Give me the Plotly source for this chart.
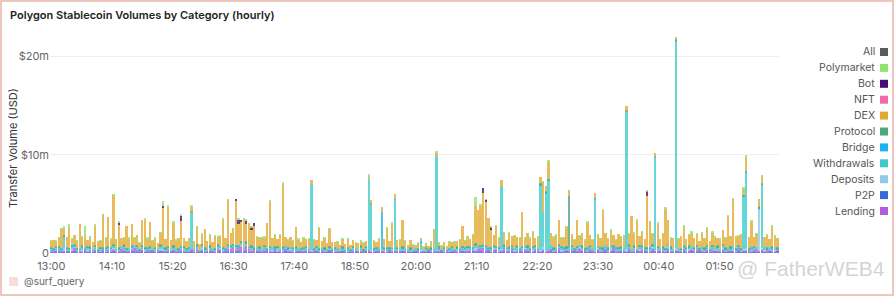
import plotly.graph_objects as go
import pandas as pd

# ---------------- data (values in units of $100k per 3-minute bin) ----------------
start_time = "2025-01-06 13:00"
bin_minutes = 3
n_bins = 280
unit = 1e5

tick_labels = ["13:00", "14:10", "15:20", "16:30", "17:40", "18:50",
               "20:00", "21:10", "22:20", "23:30", "00:40", "01:50"]
tick_step_minutes = 70

legend_categories = ["All", "Polymarket", "Bot", "NFT", "DEX", "Protocol",
                     "Bridge", "Withdrawals", "Deposits", "P2P", "Lending"]
colors = {
    "All": "#5a5a5a", "Polymarket": "#8ee46f", "Bot": "#4a0b78", "NFT": "#f06aa8",
    "DEX": "#e2aa34", "Protocol": "#4ea77a", "Bridge": "#1fb3ee",
    "Withdrawals": "#3fcaca", "Deposits": "#8fcbe6", "P2P": "#3b66d8", "Lending": "#b35bdb",
}

dex = [6,8,5,9,19,7,10,20,6,9,7,25,8,12,6,9,7,20,8,6,
       34,9,30,7,50,10,23,8,6,23,9,22,7,10,6,26,28,8,25,7,
       9,6,11,40,8,40,9,23,7,10,26,8,6,9,5,8,17,6,9,18,
       7,10,6,12,8,9,28,10,44,12,15,45,22,20,28,18,24,16,22,10,
       8,12,7,26,45,9,11,7,14,62,9,7,10,6,19,8,6,9,7,10,
       4,8,6,20,7,9,6,17,7,5,6,4,7,5,8,4,6,5,7,4,
       6,5,3,4,7,5,9,5,8,19,6,25,5,7,9,27,6,5,7,4,
       3,5,3,3,4,2,5,19,3,4,3,5,3,6,4,7,5,8,20,6,
       9,7,12,38,37,40,52,44,30,18,10,20,9,6,11,8,13,9,12,8,
       10,35,8,12,9,14,7,11,6,30,5,18,12,9,13,25,8,10,19,6,
       11,8,27,9,12,7,25,10,8,5,11,9,37,12,8,14,10,7,13,9,
       12,5,10,34,11,29,9,13,8,52,27,10,4,23,9,12,40,25,8,11,
       3,9,12,19,8,10,14,9,11,7,13,9,17,8,12,10,7,11,14,9,
       32,10,48,12,9,14,6,15,11,26,9,13,8,7,10,12,8,20,11,9]

withdrawals = [2,1,2,1,2,12,1,2,3,1,2,1,2,1,3,2,1,2,1,2,
               1,2,1,3,2,1,2,1,2,2,1,3,1,2,1,2,1,2,1,2,
               2,1,3,1,2,1,2,1,2,1,2,1,2,2,37,1,2,1,3,2,
               1,2,2,1,3,1,2,1,2,1,2,2,1,2,1,3,1,2,1,2,
               2,1,2,1,2,2,1,3,1,2,1,2,1,2,2,1,2,1,2,1,
               67,1,2,1,2,1,2,1,1,2,1,2,1,1,2,1,2,1,1,2,
               1,2,72,46,1,2,1,2,1,2,1,2,52,1,2,1,2,1,1,2,
               1,1,8,1,2,1,1,2,97,1,1,2,1,1,2,1,2,1,2,1,
               2,1,2,3,1,2,1,2,1,2,1,2,2,64,1,2,1,2,1,2,
               1,2,1,2,1,3,1,2,66,36,58,71,2,1,2,1,2,1,2,1,
               2,1,2,1,2,1,2,1,2,51,1,2,1,2,1,3,1,2,1,2,
               1,140,2,1,2,1,2,1,2,1,2,1,95,2,1,2,1,2,1,2,
               210,1,2,1,2,1,3,1,2,1,2,1,2,1,2,1,2,1,3,1,
               2,1,2,1,2,1,54,77,1,2,1,2,1,65,2,1,2,1,2,1]

lending = [1,2,1,3,1,2,1,1,2,4,1,2,1,3,1,2,1,2,1,1,
           2,1,3,1,2,1,1,4,2,1,2,1,5,3,1,2,1,2,3,1,
           1,2,1,2,1,3,1,2,1,2,1,2,1,1,2,1,3,1,2,1,
           2,1,2,1,3,2,1,2,3,4,5,3,4,6,3,5,4,2,3,1,
           2,1,3,1,2,1,2,1,2,1,3,1,2,1,2,1,1,2,1,2,
           1,2,1,1,2,1,1,2,1,1,2,1,1,2,1,1,2,1,1,2,
           1,1,2,1,1,2,1,1,2,1,2,1,1,2,1,1,2,1,1,1,
           1,2,1,1,1,2,1,1,1,2,1,1,2,1,1,2,1,3,1,2,
           2,3,1,2,4,3,5,3,2,1,3,2,1,2,4,1,2,3,1,2,
           1,2,3,1,2,1,3,2,1,2,1,2,3,1,2,4,1,2,1,2,
           3,1,2,4,1,2,1,3,2,1,2,1,2,3,1,2,4,1,2,1,
           2,1,3,1,2,1,2,4,1,2,1,3,1,2,1,2,1,3,2,1,
           1,2,1,3,1,2,1,2,3,1,2,1,2,1,3,1,2,1,2,1,
           2,1,2,1,3,1,2,1,2,1,2,3,1,2,1,2,1,2,1,2]

p2p = [1,1,2,1,1,1,2,1,1,2,1,1,1,2,1,1,1,2,1,1,
       2,1,1,1,2,1,1,1,2,1,1,2,1,1,1,2,1,1,1,2,
       1,1,2,1,1,1,1,2,1,1,2,1,1,1,2,1,1,1,2,1,
       1,2,1,1,1,2,1,1,2,1,1,1,2,1,1,2,1,1,1,2,
       1,1,1,2,1,1,2,1,1,1,2,1,1,1,1,2,1,1,2,1,
       1,1,2,1,1,1,1,2,1,1,1,1,2,1,1,1,1,2,1,1,
       1,2,1,1,1,1,2,1,1,1,2,1,1,1,1,2,1,1,1,1,
       2,1,1,1,1,2,1,1,1,1,2,1,1,1,2,1,1,1,2,1,
       1,1,2,1,1,2,1,1,2,1,1,2,1,1,2,1,1,2,1,1,
       2,1,1,2,1,1,2,1,1,2,1,1,2,1,1,2,1,1,2,1,
       1,2,1,1,2,1,1,2,1,1,2,1,1,2,1,1,2,1,1,2,
       1,1,2,1,1,2,1,1,2,1,1,2,1,1,2,1,1,2,1,1,
       2,1,1,2,1,1,2,1,1,2,1,1,2,1,1,2,1,1,2,1,
       1,2,1,1,2,1,1,2,1,1,2,1,1,2,1,1,2,1,1,2]

deposits = [1,0,1,1,0,2,1,0,1,1,0,1,2,0,1,0,1,1,0,1,
            0,1,1,0,2,1,0,1,1,0,1,0,1,1,0,1,2,0,1,0,
            1,0,1,2,0,1,0,1,1,0,1,2,0,1,0,1,1,0,1,0,
            1,1,0,1,0,2,1,0,1,1,0,1,0,2,1,0,1,1,0,1,
            0,1,1,0,1,2,0,1,0,1,1,0,2,1,0,1,0,1,1,0,
            1,0,1,1,0,1,0,1,0,1,1,0,1,0,1,0,1,1,0,1,
            0,1,0,1,1,0,1,0,1,1,0,1,0,1,0,1,1,0,1,0,
            1,0,1,0,1,0,1,1,0,1,0,1,0,1,1,0,1,0,1,1,
            1,1,0,2,1,0,1,1,0,1,2,0,1,1,0,1,1,0,2,1,
            0,1,2,1,0,1,1,0,1,2,1,0,1,1,0,1,2,1,0,1,
            1,0,1,2,1,0,1,1,0,1,2,1,0,1,1,2,0,1,1,0,
            1,2,0,1,1,0,2,1,0,1,1,2,0,1,1,0,1,2,1,0,
            2,1,0,1,1,2,0,1,1,0,2,1,1,0,1,2,1,0,1,1,
            0,1,2,1,0,1,1,2,0,1,1,0,42,1,2,0,1,1,2,0]

bridge = [0,1,0,0,1,0,1,0,0,1,0,0,1,0,0,1,0,0,1,0,
          1,0,0,1,0,0,1,0,1,0,0,1,0,0,1,0,0,1,0,0,
          0,0,1,0,1,0,0,1,0,0,1,0,0,1,0,0,1,0,0,1,
          0,1,0,0,1,0,0,1,0,1,0,0,1,0,0,1,0,1,0,0,
          1,0,0,1,0,0,1,0,0,1,0,1,0,0,1,0,0,1,0,0,
          0,0,1,0,0,1,0,0,1,0,0,0,1,0,0,1,0,0,0,1,
          0,1,0,0,1,0,0,38,0,1,0,0,1,0,0,1,0,0,1,0,
          0,0,1,0,0,0,1,0,0,1,0,0,0,1,0,0,1,0,0,1,
          0,1,0,1,0,0,1,0,1,0,0,1,0,0,1,0,1,0,0,1,
          1,0,0,1,0,1,0,0,1,0,1,0,0,1,0,0,1,0,1,0,
          0,1,0,0,1,0,1,0,0,1,0,0,1,0,1,0,0,1,0,1,
          0,0,1,0,1,0,0,1,0,0,1,0,1,0,0,1,0,0,1,0,
          1,0,0,1,0,1,0,0,1,0,0,1,0,1,0,0,1,0,0,1,
          0,1,0,0,1,0,0,1,0,1,0,0,1,0,0,1,0,1,0,0]

protocol = [1,0,1,1,0,1,0,1,1,0,1,0,1,0,1,1,0,1,0,1,
            0,1,1,0,1,0,1,0,1,1,0,1,0,1,0,1,1,0,1,0,
            1,0,1,0,1,1,0,1,0,1,0,1,1,0,1,0,1,0,1,1,
            0,1,0,1,1,0,1,0,1,0,1,1,0,1,0,1,0,1,1,0,
            1,0,1,0,1,0,1,1,0,1,0,1,0,1,1,0,1,0,1,0,
            0,1,0,1,0,1,0,1,0,1,0,0,1,0,1,0,1,0,0,1,
            1,0,0,1,0,1,0,0,1,0,1,0,0,1,0,1,0,0,1,0,
            0,1,0,0,1,0,1,0,0,1,0,1,0,0,1,0,1,0,1,0,
            1,0,1,1,0,1,0,1,0,1,1,0,1,0,1,0,1,1,0,1,
            0,1,0,1,1,0,1,0,1,0,1,1,0,1,0,1,0,1,1,53,
            1,0,1,0,1,1,0,1,0,1,0,1,1,0,1,0,1,0,1,1,
            0,1,1,0,1,0,1,0,1,1,0,1,0,1,0,1,1,0,1,0,
            1,0,1,0,1,1,0,1,0,1,0,1,1,0,1,0,1,0,1,1,
            0,1,0,1,0,1,1,0,1,0,1,0,1,1,0,1,0,1,0,1]

polymarket = [1,0,1,0,1,2,0,5,1,0,1,0,1,9,0,1,0,1,0,1,
              0,1,0,2,1,0,1,0,1,0,2,0,1,0,1,0,1,2,0,1,
              1,0,1,5,0,1,0,1,2,0,1,0,1,0,1,0,1,0,2,0,
              0,1,0,1,0,2,1,0,1,0,1,0,1,0,2,1,0,1,0,1,
              1,0,2,0,1,0,1,0,1,3,0,1,0,1,0,2,0,1,0,1,
              0,1,0,1,0,1,0,1,0,0,1,0,1,0,1,0,0,1,0,1,
              1,0,2,0,1,0,1,0,0,1,0,1,0,0,1,0,1,0,0,1,
              0,1,0,1,0,0,1,0,1,0,1,0,0,1,0,1,0,1,0,1,
              1,0,1,9,0,1,0,1,0,1,0,2,1,0,1,0,1,0,1,0,
              1,0,1,0,2,1,0,1,0,1,0,1,0,2,1,0,1,0,1,0,
              0,1,0,1,0,2,1,0,1,0,1,0,1,0,1,2,0,1,0,1,
              1,0,1,0,2,1,0,1,0,1,0,1,0,1,0,1,2,0,1,0,
              0,1,0,1,0,1,2,0,1,0,1,0,1,0,2,1,0,1,0,1,
              1,0,1,0,1,0,2,1,0,1,0,1,0,1,0,1,0,2,1,0]

bot = [0,0,0,0,0,0,0,0,0,0,0,0,0,0,0,0,0,0,0,0,
       0,0,0,0,0,0,2,0,0,0,0,0,0,0,0,0,0,0,0,0,
       0,0,0,2,0,0,0,0,0,0,5,0,0,0,0,0,0,0,0,0,
       0,0,0,0,0,0,0,0,0,0,0,2,4,2,0,3,0,2,3,0,
       0,0,0,0,0,0,0,0,0,0,0,0,0,0,0,0,0,0,0,0,
       0,0,0,0,0,0,0,0,0,0,0,0,0,0,0,0,0,0,0,0,
       0,0,0,0,0,0,0,0,0,0,0,0,0,0,0,0,0,0,0,0,
       0,0,0,0,0,0,0,0,0,0,0,0,0,0,0,0,0,0,0,0,
       0,0,0,0,0,0,5,2,0,2,0,0,0,0,0,0,0,0,0,0,
       0,0,0,0,0,0,0,0,0,0,0,0,0,0,0,0,0,0,0,0,
       0,0,0,0,0,0,0,0,0,0,0,0,0,0,0,0,0,0,0,0,
       0,0,0,0,0,0,0,0,0,5,0,0,0,0,0,0,0,0,0,0,
       0,0,0,0,0,0,0,0,0,0,0,0,0,0,0,0,0,0,0,0,
       0,0,0,0,0,0,0,0,0,0,0,0,0,0,0,0,0,0,0,0]

# bottom-to-top stacking order
stack_order = [("P2P", p2p), ("Lending", lending), ("Deposits", deposits),
               ("Withdrawals", withdrawals), ("Bridge", bridge), ("Protocol", protocol),
               ("DEX", dex), ("Bot", bot), ("Polymarket", polymarket)]

# ---------------- figure ----------------
W, H = 894, 296
L, R, T, B = 50, 115, 37, 43
PW, PH = W - L - R, H - T - B

def px(xp):
    return (xp - L) / PW

def py(yp):
    return (H - B - yp) / PH

t0 = pd.Timestamp(start_time)
times = [t0 + pd.Timedelta(minutes=bin_minutes * i) for i in range(n_bins)]
half = pd.Timedelta(minutes=bin_minutes / 2)
tickvals = [t0 + pd.Timedelta(minutes=tick_step_minutes * k) for k in range(len(tick_labels))]
bar_width_ms = bin_minutes * 60 * 1000 * 0.7

fig = go.Figure()
for name, vals in stack_order:
    assert len(vals) == n_bins, name
    fig.add_trace(go.Bar(
        x=times, y=[v * unit for v in vals], name=name,
        width=bar_width_ms,
        marker=dict(color=colors[name], line=dict(width=0), opacity=0.8),
        showlegend=False, hoverinfo="skip",
    ))

font_family = "Inter, 'Liberation Sans', Arial, sans-serif"

fig.update_layout(
    width=W, height=H,
    margin=dict(l=L, r=R, t=T, b=B),
    paper_bgcolor="white", plot_bgcolor="white",
    barmode="stack", bargap=0, bargroupgap=0,
    font=dict(family=font_family, size=11, color="#666666"),
    xaxis=dict(
        type="date",
        range=[times[0] - half, times[-1] + half],
        tickvals=tickvals, ticktext=tick_labels,
        showgrid=False, zeroline=False, showline=False,
        ticks="", ticklabelstandoff=5, tickfont=dict(size=11, color="#666666"),
    ),
    yaxis=dict(
        range=[0, 22e6],
        tickvals=[0, 10e6, 20e6], ticktext=["0", "$10m", "$20m"],
        showgrid=True, gridcolor="#eeeeee", gridwidth=1,
        zeroline=False, showline=False, ticks="",
        tickfont=dict(size=11, color="#666666"),
    ),
)

annotations = []
shapes = []

# title
annotations.append(dict(
    text="Polygon Stablecoin Volumes by Category (hourly)",
    xref="paper", yref="paper", x=px(8), y=py(15), xanchor="left", yanchor="middle",
    showarrow=False, font=dict(size=11, color="#222222", family=font_family, weight=600),
))
# y-axis title
annotations.append(dict(
    text="Transfer Volume (USD)", textangle=-90,
    xref="paper", yref="paper", x=px(13), y=py(148), xanchor="center", yanchor="middle",
    showarrow=False, font=dict(size=11, color="#333333", family=font_family),
))

# legend on the right (text right-aligned, swatch on the right)
leg_top, leg_step = 52, 15.9
for k, name in enumerate(legend_categories):
    yc = leg_top + k * leg_step
    annotations.append(dict(
        text=name, xref="paper", yref="paper", x=px(877), y=py(yc),
        xanchor="right", yanchor="middle", showarrow=False,
        font=dict(size=10.5, color="#555555", family=font_family),
    ))
    shapes.append(dict(
        type="rect", xref="paper", yref="paper",
        x0=px(880), x1=px(888), y0=py(yc + 4), y1=py(yc - 4),
        fillcolor=colors[name], line=dict(width=0),
    ))

# footer credit
shapes.append(dict(type="rect", xref="paper", yref="paper",
                   x0=px(9), x1=px(18), y0=py(286), y1=py(277),
                   fillcolor="#f9dcdc", line=dict(width=0)))
annotations.append(dict(
    text="@surf_query", xref="paper", yref="paper", x=px(22), y=py(281),
    xanchor="left", yanchor="middle", showarrow=False,
    font=dict(size=10, color="#666666", family=font_family),
))
# watermark
annotations.append(dict(
    text="@ FatherWEB4", xref="paper", yref="paper", x=px(887), y=py(268),
    xanchor="right", yanchor="middle", showarrow=False,
    font=dict(size=21, color="rgba(200,200,200,0.8)", family="'Liberation Sans', Arial, sans-serif"),
))
# outer frame
shapes.append(dict(type="rect", xref="paper", yref="paper",
                   x0=px(1), x1=px(893), y0=py(295), y1=py(1),
                   line=dict(color="#efc6bd", width=2), fillcolor="rgba(0,0,0,0)"))

fig.update_layout(annotations=annotations, shapes=shapes)
fig.write_html("out.html")
